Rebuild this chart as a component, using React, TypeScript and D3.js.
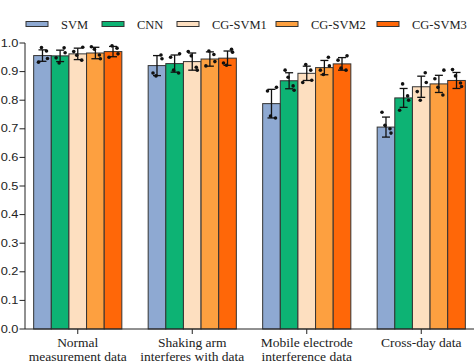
import React from "react";
import * as d3 from "d3";

const categories = [
  ["Normal", "measurement data"],
  ["Shaking arm", "interferes with data"],
  ["Mobile electrode", "interference data"],
  ["Cross-day data"],
];
const categoryKeys = ["normal", "shaking", "mobile", "crossday"];
const series = ["SVM", "CNN", "CG-SVM1", "CG-SVM2", "CG-SVM3"];
const colors = ["#8EA9D2", "#0DB374", "#FDDFC0", "#FDA040", "#FF6708"];

// means per series, by category
const svmMean = [0.956, 0.921, 0.788, 0.706];
const cnnMean = [0.955, 0.928, 0.868, 0.808];
const cg1Mean = [0.962, 0.935, 0.894, 0.847];
const cg2Mean = [0.965, 0.944, 0.914, 0.857];
const cg3Mean = [0.970, 0.947, 0.927, 0.869];

const svmSd = [0.02, 0.035, 0.05, 0.035];
const cnnSd = [0.02, 0.03, 0.028, 0.033];
const cg1Sd = [0.02, 0.03, 0.025, 0.037];
const cg2Sd = [0.02, 0.025, 0.025, 0.03];
const cg3Sd = [0.018, 0.025, 0.022, 0.028];

const svmDots = [
  [0.984, 0.972, 0.946, 0.933],
  [0.958, 0.945, 0.895, 0.885],
  [0.845, 0.832, 0.745, 0.738],
  [0.758, 0.712, 0.7, 0.685],
];
const cnnDots = [
  [0.983, 0.966, 0.948, 0.93],
  [0.962, 0.95, 0.905, 0.895],
  [0.905, 0.88, 0.85, 0.835],
  [0.857, 0.815, 0.8, 0.765],
];
const cg1Dots = [
  [0.985, 0.97, 0.957, 0.94],
  [0.97, 0.955, 0.915, 0.905],
  [0.925, 0.905, 0.87, 0.862],
  [0.896, 0.862, 0.83, 0.8],
];
const cg2Dots = [
  [0.987, 0.978, 0.958, 0.945],
  [0.972, 0.96, 0.935, 0.92],
  [0.95, 0.92, 0.905, 0.89],
  [0.905, 0.875, 0.845, 0.818],
];
const cg3Dots = [
  [0.99, 0.982, 0.962, 0.95],
  [0.978, 0.968, 0.93, 0.922],
  [0.955, 0.94, 0.912, 0.905],
  [0.907, 0.885, 0.86, 0.848],
];

const means = [svmMean, cnnMean, cg1Mean, cg2Mean, cg3Mean];
const sds = [svmSd, cnnSd, cg1Sd, cg2Sd, cg3Sd];
const dots = [svmDots, cnnDots, cg1Dots, cg2Dots, cg3Dots];
const yTicks = d3.range(0, 11).map((i) => i / 10);

const W = 474;
const H = 364;
const axisX = 25;
const jitter = [-1, 4, 5, -4];
const SERIF = "'Liberation Serif', 'Times New Roman', serif";
const SANS = "'Liberation Sans', Arial, sans-serif";

export default function App() {
  const y = d3.scaleLinear().domain([0, 1]).range([329, 43]);
  const x0 = d3
    .scaleBand()
    .domain(categoryKeys)
    .range([20.5, 478.5])
    .paddingInner(0.23)
    .paddingOuter(0.115);
  const x1 = d3.scaleBand().domain(series).range([0, x0.bandwidth()]);
  const bw = x1.bandwidth();

  const legendX = [26, 102, 177, 276, 377];

  return (
    <svg
      width={W}
      height={H}
      style={{ position: "fixed", left: 0, top: 0, background: "#fff" }}
    >
      {/* legend */}
      {series.map((s, i) => (
        <g key={s}>
          <rect
            x={legendX[i]}
            y={21.5}
            width={22}
            height={5}
            fill={colors[i]}
            stroke="#333"
            strokeWidth={1}
          />
          <text
            x={legendX[i] + 35}
            y={28.5}
            style={{ fontFamily: SERIF, fontSize: "12.5px" }}
            fill="#222"
          >
            {s}
          </text>
        </g>
      ))}

      {/* bars */}
      {categoryKeys.map((c, ci) => (
        <g key={c} transform={`translate(${x0(c)},0)`}>
          {series.map((s, si) => {
            const m = means[si][ci];
            const sd = sds[si][ci];
            const bx = x1(s)!;
            const cx = bx + bw / 2;
            return (
              <g key={s}>
                <rect
                  x={bx}
                  y={y(m)}
                  width={bw}
                  height={y(0) - y(m)}
                  fill={colors[si]}
                  stroke="#333"
                  strokeWidth={1}
                />
                <line x1={cx} x2={cx} y1={y(m + sd)} y2={y(m - sd)} stroke="#111" strokeWidth={1.3} />
                <line x1={cx - 4} x2={cx + 4} y1={y(m + sd)} y2={y(m + sd)} stroke="#111" strokeWidth={1.3} />
                <line x1={cx - 4} x2={cx + 4} y1={y(m - sd)} y2={y(m - sd)} stroke="#111" strokeWidth={1.3} />
                {dots[si][ci].map((v, di) => (
                  <circle
                    key={di}
                    cx={cx + jitter[(di + si + ci) % 4]}
                    cy={y(v)}
                    r={1.8}
                    fill="#111"
                  />
                ))}
              </g>
            );
          })}
        </g>
      ))}

      {/* y axis */}
      <line x1={axisX} x2={axisX} y1={y(1)} y2={y(0)} stroke="#222" strokeWidth={1} />
      {yTicks.map((t) => (
        <g key={t}>
          <line x1={axisX - 5.5} x2={axisX} y1={y(t)} y2={y(t)} stroke="#222" strokeWidth={1} />
          <text
            transform={`translate(${axisX - 6.5},${y(t) + 3.6}) scale(1.22,1)`}
            textAnchor="end"
            style={{ fontFamily: SANS, fontSize: "10.5px" }}
            fill="#222"
          >
            {t.toFixed(1)}
          </text>
        </g>
      ))}

      {/* x axis */}
      <line x1={axisX} x2={W} y1={y(0)} y2={y(0)} stroke="#222" strokeWidth={1} />
      {categoryKeys.map((c, ci) => {
        const cx = x0(c)! + x0.bandwidth() / 2;
        return (
          <g key={c}>
            <line x1={cx} x2={cx} y1={y(0)} y2={y(0) + 5} stroke="#222" strokeWidth={1} />
            {categories[ci].map((line, li) => (
              <text
                key={li}
                x={cx}
                y={347 + li * 14}
                textAnchor="middle"
                style={{ fontFamily: SERIF, fontSize: "13.5px" }}
                fill="#222"
              >
                {line}
              </text>
            ))}
          </g>
        );
      })}
    </svg>
  );
}
